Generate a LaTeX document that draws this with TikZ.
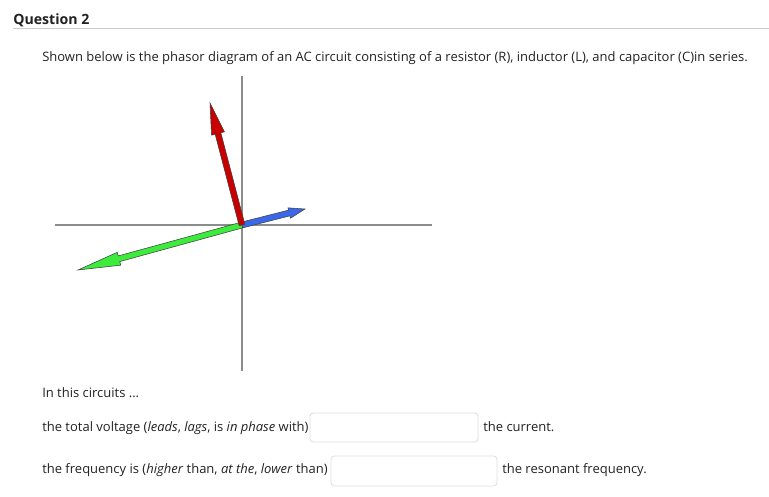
\documentclass[tikz,border=0pt]{standalone}
\usepackage{fontspec}
\setmainfont{Open Sans}
\usetikzlibrary{calc}
\definecolor{axisgray}{HTML}{8C8C8C}
\definecolor{rulegray}{HTML}{CCCCCC}
\definecolor{boxgray}{HTML}{DDDDDD}
\definecolor{txt}{HTML}{222222}
\definecolor{phred}{HTML}{C80000}
\definecolor{phgreen}{HTML}{3CEB3C}
\definecolor{phblue}{HTML}{3A68E8}
\newcommand\drawphasor[5]{% origin, tip, colour, shaft half-width, head half-width
  \coordinate (hh) at ($(#1)!0.75!(#2)$);
  \filldraw[fill=#3,draw=black!75,line width=0.4pt,line join=miter]
    ($(#1)!#4!90:(#2)$) -- ($(hh)!#4!90:(#2)$) -- ($(hh)!#5!90:(#2)$) -- (#2)
    -- ($(hh)!#5!-90:(#2)$) -- ($(hh)!#4!-90:(#2)$) -- ($(#1)!#4!-90:(#2)$) -- cycle;
}
\tikzset{
  txtnode/.style={anchor=base west,inner sep=0pt,text=txt,font=\fontsize{9.75}{11}\selectfont},
  ansbox/.style={draw=boxgray,rounded corners=2.5pt,line width=0.6pt,fill=white},
  axis/.style={draw=axisgray,line width=0.9pt},
}
\begin{document}
\begin{tikzpicture}[x=0.75pt,y=-0.75pt]
\useasboundingbox (0,0) rectangle (769,497);
\node[txtnode,font=\fontsize{10.6}{12}\bfseries] (q) at (13,24.5) {Question 2};
\coordinate (r1) at (13,28.5);
\coordinate (r2) at (769,28.5);
\draw[rulegray,line width=0.75pt] (r1) -- (r2);
\node[txtnode] (intro) at (42,61) {Shown below is the phasor diagram of an AC circuit consisting of a resistor (R), inductor (L), and capacitor (C)in series.};
% axes
\coordinate (vt) at (242,76);
\coordinate (vb) at (242,371);
\coordinate (hl) at (55,225);
\coordinate (hr) at (432,225);
\draw[axis] (vt) -- (vb);
\draw[axis] (hl) -- (hr);
% phasors
\coordinate (O) at (242,225);
\coordinate (G) at (78,270);
\coordinate (B) at (305,209);
\coordinate (R) at (210,103);
\drawphasor{O}{G}{phgreen}{2.2pt}{5pt}
\drawphasor{O}{B}{phblue}{2.2pt}{4pt}
\drawphasor{O}{R}{phred}{2.2pt}{5pt}
% questions
\node[txtnode] (c) at (42,397) {In this circuits ...};
\node[txtnode] (l1) at (42,431) {the total voltage (\textit{leads}, \textit{lags}, is \textit{in phase} with)};
\draw[ansbox] (310,413) rectangle (478,442);
\node[txtnode] (l1b) at (483,431) {the current.};
\node[txtnode] (l2) at (42,473) {the frequency is (\textit{higher} than, \textit{at the}, \textit{lower} than)};
\draw[ansbox] (331,456) rectangle (497,486);
\node[txtnode] (l2b) at (502,473) {the resonant frequency.};
\end{tikzpicture}
\end{document}
